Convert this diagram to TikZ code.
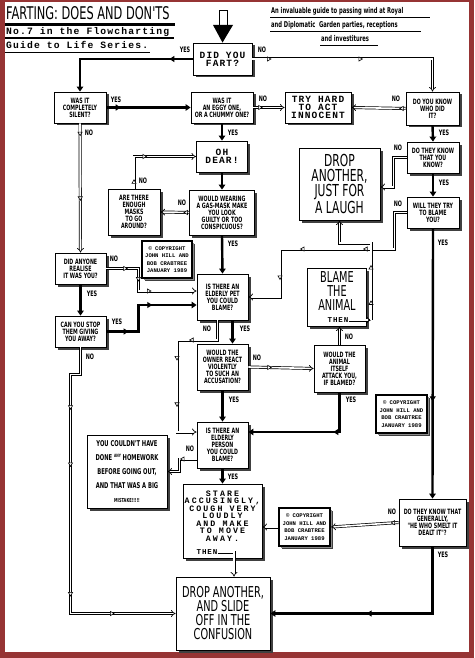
\documentclass[tikz,border=0pt]{standalone}
\usepackage{fontspec}
\usepackage{tikz}
\usetikzlibrary{arrows.meta,shadows,decorations.markings}
\newfontfamily\narrowfont[FakeStretch=0.65]{DejaVu Sans}
\newfontfamily\typefont[LetterSpace=12]{Liberation Mono}
\newfontfamily\copyfont{Liberation Mono}
\newcommand\qtxt{\narrowfont\bfseries\fontsize{7.3}{7}\selectfont}
\newcommand\bigtxt{\narrowfont\fontsize{15}{14}\selectfont}
\newcommand\typetxt{\typefont\bfseries\fontsize{9.5}{8}\selectfont}
\definecolor{framered}{RGB}{150,52,52}

\begin{document}
\begin{tikzpicture}[x=1pt,y=-1pt,
  box/.style={draw,line width=0.8pt,fill=white,align=center,inner sep=1pt,
    drop shadow={shadow xshift=2.5pt,shadow yshift=-2.5pt,fill=black!75,opacity=1}},
  qbox/.style={box,font=\qtxt},
  typebox/.style={box,font=\typetxt},
  bigbox/.style={box,font=\bigtxt},
  copybox/.style={box,line width=2.2pt,font=\copyfont\bfseries\fontsize{5.6}{7.5}\selectfont,
    drop shadow={shadow xshift=2pt,shadow yshift=-2pt,fill=black!45,opacity=1}},
  sz/.style 2 args={minimum width=#1pt,minimum height=#2pt},
  lab/.style={font=\narrowfont\bfseries\fontsize{7.5}{7.5}\selectfont,inner sep=0pt},
  yesline/.style={line width=2.4pt,-{Triangle[length=5pt,width=6.5pt]}},
  noline/.style={line width=0.7pt,double=white,double distance=1.6pt,-{Implies}},
  ymark/.style={postaction={decorate,decoration={markings,
    mark=at position #1 with {\arrow{Triangle[length=5pt,width=6pt]}}}}},
  nmark/.style={postaction={decorate,decoration={markings,
    mark=at position #1 with {\arrow{Triangle[open,length=4.5pt,width=5pt,fill=white,line width=0.6pt]}}}}}]

% frame
\fill[framered] (0,0) rectangle (474,658);
\fill[white] (5,2) rectangle (469,652);
\useasboundingbox (0,0) rectangle (474,658);

% headings
\node[anchor=base west,inner sep=0pt,font=\narrowfont\fontsize{17.5}{17}\selectfont] (title) at (6,20) {FARTING: DOES AND DON'TS};
\draw[line width=3pt] (5,24.5) -- (175,24.5);
\node[anchor=base west,inner sep=0pt,font=\typefont\bfseries\fontsize{9.7}{9}\selectfont] (subone) at (6,35) {No.7 in the Flowcharting};
\draw[line width=1.2pt] (5,38) -- (174,38);
\node[anchor=base west,inner sep=0pt,font=\typefont\bfseries\fontsize{9.7}{9}\selectfont] (subtwo) at (6,49) {Guide to Life Series.};
\draw[line width=1.2pt] (5,52.5) -- (150,52.5);
\node[anchor=base west,inner sep=0pt,font=\narrowfont\bfseries\fontsize{8}{8}\selectfont] (blurbone) at (271,14) {An invaluable guide to passing wind at Royal};
\draw[line width=0.8pt] (270,17.5) -- (430,17.5);
\node[anchor=base west,inner sep=0pt,font=\narrowfont\bfseries\fontsize{8}{8}\selectfont] (blurbtwo) at (271,28) {and Diplomatic \ Garden parties, receptions};
\draw[line width=0.8pt] (270,31.5) -- (421,31.5);
\node[anchor=base west,inner sep=0pt,font=\narrowfont\bfseries\fontsize{8}{8}\selectfont] (blurbthree) at (321,42) {and investitures};
\draw[line width=0.8pt] (320,45.5) -- (378,45.5);

% boxes
\node[typebox,sz={59}{32}] (fart) at (222.5,59) {DID YOU\\FART?};
\node[qbox,sz={52}{31}] (silent) at (80,107.5) {WAS IT\\COMPLETELY\\SILENT?};
\node[qbox,sz={62}{31}] (eggy) at (222,107.5) {WAS IT\\AN EGGY ONE,\\OR A CHUMMY ONE?};
\node[typebox,sz={66}{31}] (innocent) at (318,107.5) {TRY HARD\\TO ACT\\INNOCENT};
\node[qbox,sz={53}{33}] (whodid) at (432.5,108.5) {DO YOU KNOW\\WHO DID\\IT?};
\node[typebox,sz={51}{31}] (ohdear) at (222,156.5) {OH\\DEAR!};
\node[qbox,sz={65}{45}] (gasmask) at (222,212.5) {WOULD WEARING\\A GAS-MASK MAKE\\YOU LOOK\\GUILTY OR TOO\\CONSPICUOUS?};
\node[qbox,sz={52}{46}] (masks) at (134,212) {ARE THERE\\ENOUGH\\MASKS\\TO GO\\AROUND?};
\node[copybox,sz={50}{37}] (copya) at (167,259.5) {© COPYRIGHT\\JOHN HILL AND\\BOB CRABTREE\\JANUARY 1989};
\node[qbox,sz={51}{46}] (pet) at (222.5,297) {IS THERE AN\\ELDERLY PET\\YOU COULD\\BLAME?};
\node[qbox,sz={51}{31}] (realise) at (80.5,268.5) {DID ANYONE\\REALISE\\IT WAS YOU?};
\node[qbox,sz={51}{31}] (stop) at (80.5,331.5) {CAN YOU STOP\\THEM GIVING\\YOU AWAY?};
\node[qbox,sz={52}{31}] (knowthat) at (433,157.5) {DO THEY KNOW\\THAT YOU\\KNOW?};
\node[qbox,sz={52}{31}] (willthey) at (433,212.5) {WILL THEY TRY\\TO BLAME\\YOU?};
\node[bigbox,sz={81}{72},font=\narrowfont\fontsize{16.5}{15}\selectfont] (laugh) at (339.5,184) {DROP\\ANOTHER,\\JUST FOR\\A LAUGH};
\node[bigbox,sz={59}{58}] (blame) at (337,297) {BLAME\\THE\\ANIMAL\\[-3pt]\mbox{}};
\node[inner sep=0pt,font=\typefont\bfseries\fontsize{7.5}{7.5}\selectfont] (thenone) at (338,320) {THEN};
\node[qbox,sz={51}{47}] (attack) at (339.5,368.5) {WOULD THE\\ANIMAL\\ITSELF\\ATTACK YOU,\\IF BLAMED?};
\node[qbox,sz={51}{46}] (owner) at (222.5,367) {WOULD THE\\OWNER REACT\\VIOLENTLY\\TO SUCH AN\\ACCUSATION?};
\node[qbox,sz={51}{46}] (person) at (222.5,445) {IS THERE AN\\ELDERLY\\PERSON\\YOU COULD\\BLAME?};
\node[box,sz={80}{73},font=\narrowfont\bfseries\fontsize{8}{14}\selectfont] (homework) at (127,471.5)
  {YOU COULDN'T HAVE\\DONE {\fontsize{4.5}{4.5}\selectfont\raisebox{3pt}{ANY}} HOMEWORK\\BEFORE GOING OUT,\\AND THAT WAS A BIG\\{\fontsize{5.5}{5.5}\selectfont MISTAKE!!!!!}};
\node[typebox,sz={79}{74},font=\typefont\bfseries\fontsize{8.3}{7.5}\selectfont\addfontfeatures{LetterSpace=25}] (stare) at (222.5,521)
  {STARE\\ACCUSINGLY,\\COUGH VERY\\LOUDLY\\AND MAKE\\TO MOVE\\AWAY.\\[3pt]\mbox{}};
\node[inner sep=0pt,font=\typefont\bfseries\fontsize{7.5}{7.5}\selectfont] (thentwo) at (207,552) {THEN};
\node[copybox,sz={51}{38}] (copyb) at (401.5,414) {© COPYRIGHT\\JOHN HILL AND\\BOB CRABTREE\\JANUARY 1989};
\node[qbox,sz={67}{47}] (generally) at (432.5,522.5) {DO THEY KNOW THAT\\GENERALLY,\\"HE WHO SMELT IT\\DEALT IT"?};
\node[copybox,sz={51}{38}] (copyc) at (304.5,527) {© COPYRIGHT\\JOHN HILL AND\\BOB CRABTREE\\JANUARY 1989};
\node[bigbox,sz={94}{73}] (slide) at (223,613.5) {DROP ANOTHER,\\AND SLIDE\\OFF IN THE\\CONFUSION};

% start arrow
\coordinate (start) at (223,10);
\draw[line width=0.8pt,fill=white] ([xshift=-4pt]start) rectangle ([xshift=4pt,yshift=-15pt]start);
\fill ([xshift=-10pt,yshift=-15pt]start) -- ([xshift=10pt,yshift=-15pt]start) -- (fart.north) -- cycle;

% bends
\coordinate (willbend) at (280,249);
\coordinate (thenbend) at (371,243);
\coordinate (petbend) at (177,340);

% connectors
\draw[yesline,ymark=.16] (fart.west) -| (silent.north);
\draw[noline,nmark=.09,nmark=.52] (fart.east) -| (whodid.north);
\draw[yesline,ymark=.17] (silent.east) -- (eggy.west);
\draw[noline,nmark=.3] (eggy.east) -- (innocent.west);
\draw[noline,nmark=.12] (whodid.west) -- (innocent.east);
\draw[noline,nmark=.1,nmark=.6] (silent.south) -- (realise.north);
\draw[yesline] (eggy.south) -- (ohdear.north);
\draw[yesline] (ohdear.south) -- (gasmask.north);
\draw[noline,nmark=.2] (gasmask.west) -- (masks.east);
\draw[noline,nmark=.1,nmark=.48] (masks.north) |- (ohdear.west);
\draw[yesline] (gasmask.south) -- (pet.north);
\draw[noline,nmark=.19,nmark=.4,nmark=.6] (realise.east) -- ++(32,0) |- ([yshift=6pt]pet.west);
\draw[yesline] (realise.south) -- (stop.north);
\draw[yesline,ymark=.19,ymark=.62] (stop.east) -- ++(32,0) |- ([yshift=-8pt]pet.west);
\draw[noline,nmark=.19,nmark=.34,nmark=.68,nmark=.84] (stop.south) -- ++(0,27) -- ++(-10,0) |- (slide.west);
\draw[yesline] (whodid.south) -- (knowthat.north);
\draw[noline] (knowthat.west) -- ++(-13,0) |- ([yshift=-3pt]laugh.east);
\draw[yesline] (knowthat.south) -- (willthey.north);
\draw[noline,nmark=.33,nmark=.59,nmark=.8] (willthey.west) -- ++(-12,0) |- (willbend) |- (pet.east);
\draw[yesline,ymark=.64] (willthey.south) -- (generally.north);
\draw[noline] (thenone.east) -- (thenone.east -| thenbend);
\draw[noline,nmark=.15,nmark=.42] (thenone.east -| thenbend) -- (thenbend) -| (laugh.south);
\draw[noline] (attack.north) -- (attack.north |- blame.south);
\draw[yesline] ([xshift=10pt]pet.south) -- ([xshift=10pt]pet.south |- owner.north);
\draw[noline,nmark=.28,nmark=.47,nmark=.74] ([xshift=-5pt]pet.south) |- (petbend) |- ([yshift=13pt]person.west);
\draw[noline,nmark=.36] (owner.east) -- (attack.west);
\draw[yesline] (owner.south) -- (person.north);
\draw[yesline,ymark=.35] (attack.south) |- ([yshift=13pt]person.east);
\draw[noline,nmark=.4] ([yshift=-14pt]person.west) -- ++(-17,0) |- (homework.east);
\draw[yesline] (person.south) -- (stare.north);
\draw[noline] (thentwo.east) -| ([xshift=11pt]slide.north);
\draw[noline,nmark=.12] (generally.west) -- (copyc.east);
\draw[noline] (copyc.west) -- (copyc.west -| stare.east);
\draw[yesline,ymark=.58] (generally.south) |- (slide.east);

% answers
\node[lab] (fartyes) at (185,50) {YES};
\node[lab] (fartno) at (262,50) {NO};
\node[lab] (silentyes) at (116,100) {YES};
\node[lab] (eggyno) at (263,99) {NO};
\node[lab] (whodidno) at (396,99) {NO};
\node[lab] (silentno) at (89,133) {NO};
\node[lab] (eggyyes) at (233,133) {YES};
\node[lab] (masksno) at (143,181) {NO};
\node[lab] (gasmaskno) at (182,203) {NO};
\node[lab] (gasmaskyes) at (233,244) {YES};
\node[lab] (realiseno) at (114,259) {NO};
\node[lab] (realiseyes) at (92,294) {YES};
\node[lab] (stopyes) at (117,322) {YES};
\node[lab] (stopno) at (90,357) {NO};
\node[lab] (petno) at (207,329) {NO};
\node[lab] (petyes) at (245,329) {YES};
\node[lab] (ownerno) at (257,358) {NO};
\node[lab] (owneryes) at (234,400) {YES};
\node[lab] (attackno) at (349,337) {NO};
\node[lab] (attackyes) at (351,400) {YES};
\node[lab] (whodidyes) at (444,133) {YES};
\node[lab] (knowthatno) at (398,148) {NO};
\node[lab] (knowthatyes) at (444,183) {YES};
\node[lab] (willtheyno) at (398,204) {NO};
\node[lab] (willtheyyes) at (443,243) {YES};
\node[lab] (personno) at (190,449) {NO};
\node[lab] (personyes) at (233,477) {YES};
\node[lab] (generallyno) at (392,512) {NO};
\node[lab] (generallyyes) at (443,555) {YES};
\end{tikzpicture}
\end{document}
